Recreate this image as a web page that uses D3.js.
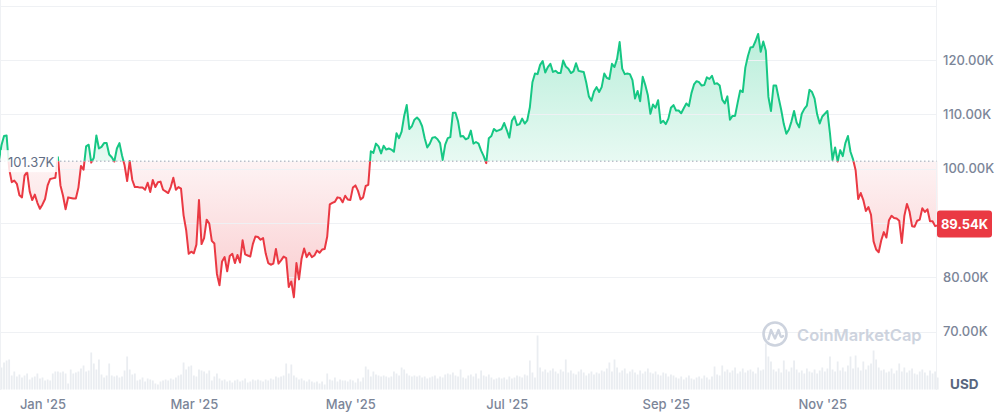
<!DOCTYPE html>
<html><head><meta charset="utf-8">
<script src="https://cdn.jsdelivr.net/npm/d3@7"></script>
<style>
html,body{margin:0;padding:0;background:#fff;}
svg{display:block;font-family:Inter,"Noto Sans",sans-serif;}
</style></head><body>
<svg id="chart" width="997" height="412"></svg>
<script>
// ---------------- DATA ----------------
// Daily closing prices (thousand USD), first value = close of 14 Dec 2024, last = close of 15 Dec 2025
const startDate = "2024-12-15"; // plot date of the first close
const pricesDec2024 = [101.37,104.3,106.0,106.1,100.0,97.5,97.8,97.2,95.1,94.7,98.7,99.4,95.8,94.2,95.2,93.7,92.6,93.4];
const pricesJan = [94.4,96.9,98.1,98.2,98.3,102.1,96.9,95.0,92.5,94.7,94.6,94.5,94.5,96.5,100.5,99.8,104.1,104.4,101.1,102.0,106.1,103.7,104.0,104.7,104.7,102.6,102.1,101.3,103.7,104.7,102.4];
const pricesFeb = [100.6,97.7,101.4,97.9,96.6,96.6,96.5,96.5,96.1,97.4,95.7,97.9,96.6,97.5,97.6,96.1,95.8,95.5,96.6,98.3,96.1,96.6,96.3,91.4,88.7,84.3,84.7,84.4];
const pricesMar = [86.0,94.2,86.1,87.2,90.6,89.9,86.7,86.2,80.6,78.5,82.9,83.7,81.1,83.9,84.3,82.6,84.1,82.7,86.8,84.2,84.0,83.8,86.1,87.5,87.4,86.9,87.2,84.4,82.6,82.3,82.5];
const pricesApr = [85.2,82.5,83.1,83.8,83.5,78.2,79.2,76.3,82.6,79.6,83.4,85.3,83.7,84.5,83.7,84.0,84.9,84.5,85.1,85.2,87.5,93.4,93.7,93.9,94.7,94.6,93.8,95.0,94.3,94.2];
const pricesMay = [96.5,96.9,95.9,94.3,94.7,96.8,97.0,103.2,102.9,104.6,104.1,102.8,104.2,103.5,103.7,103.5,103.1,106.5,105.6,106.8,109.7,111.7,107.3,107.8,109.0,109.4,108.9,107.8,105.6,103.9,104.6];
const pricesJun = [105.7,105.8,105.4,104.7,101.6,104.4,105.6,105.8,110.3,110.3,108.7,105.9,106.0,105.4,105.6,107.0,104.6,104.9,104.6,103.3,102.3,101.0,105.6,106.0,107.3,106.9,107.1,107.3,108.4,107.1];
const pricesJul = [105.7,108.8,109.6,108.0,108.2,109.2,108.3,108.9,111.3,115.9,117.5,117.4,119.1,119.8,117.7,118.7,119.3,117.8,118.0,117.6,117.6,119.9,118.8,118.4,117.6,117.9,119.4,118.0,117.9,117.8,115.8];
const pricesAug = [113.3,112.5,114.2,115.0,114.1,115.0,117.5,116.7,116.5,119.3,118.7,120.2,123.3,118.4,117.4,117.5,117.4,116.3,112.9,114.3,112.4,116.9,115.4,113.5,110.1,111.8,111.2,112.6,108.4,108.8,108.2];
const pricesSep = [109.2,111.2,111.7,110.7,110.7,110.2,111.1,112.0,111.5,113.9,115.5,116.1,115.9,115.3,115.4,116.8,116.5,117.1,115.6,115.7,115.3,112.7,112.0,113.3,109.0,109.7,109.7,112.1,114.4,114.1];
const pricesOct = [118.6,120.7,122.3,122.4,123.5,124.8,121.5,123.4,121.7,113.2,110.6,115.3,115.3,113.0,110.8,108.2,106.4,107.2,108.7,110.6,108.5,107.6,110.1,111.0,111.6,114.5,114.1,112.9,110.0,108.3,109.6];
const pricesNov = [110.1,110.6,106.5,101.6,103.9,101.3,103.4,102.3,104.7,106.0,103.1,101.7,99.7,94.4,95.5,94.2,92.2,92.9,91.5,86.6,85.1,84.6,86.8,88.3,87.3,90.5,91.3,90.9,90.8,90.4];
const pricesDec2025 = [86.3,91.3,93.5,92.1,89.4,89.3,90.4,90.6,92.7,92.0,92.5,90.3,90.3,89.4,89.54];

// Daily volume (relative units)
const volumes = [
 26,22,27,29,30, 14,18,13,15,12,14,16,10,12,13, 16,11,12,9,10,9, 16,18,18,17,18,16,6,
 20,16,17,18,21,24,18,19, 37,26,20,30,15,12,14,26, 14,13,14,12,13,19,33,20,15,16,
 9,10,12,8,11,10,9, 6,5,8,9,10,9,11,10, 12,14,15, 27,20,23,24, 14,13,20,19,18,16,19,
 9,13,16,11, 9,10,8,9,7,9,10,8,9,11,7, 8,10,9,10,9,8,10,9,11,10,13, 12,13,14,
 26,16,25, 14,12,10,11, 9,8,10,8,7,8,6,8,5, 16, 10,9,12,8,10,9, 9,8,10,9,7,11,8,12,
 23,20,13, 18,15,14,13,14,13,12, 13,18,16,14,22,20, 16,14,13,14,13,14,12,13,
 11,12,13,14,11,13,12, 15,16,15,17,14,13, 20, 12,11,14,15,13, 16,11,19,14, 13,15,12,10,11,12,
 11,12,10,13,11,12,14,13,12,15,14, 29,17,12, 54, 22,18,20,17,19,21,18,16,20, 18,30,
 17,19,16,15,18,20,17,14,16,18,15,17,16,19,18, 21,27,18,30,
 22,17,19,21,16,18,20,17,15,19,16,18,21,17,16,18,15,14,17,16,13,15,14,
 12,11,13,10,12,14,11,10,12,13,11,14,12,10,13, 23,15,14,24,
 18,20,17,19,22,16,18,21,17,19,20,18,16,22,19, 20,46,33,28,20, 18,21,17,29, 20,18,22,29,
 20,17,19,16,21,18,17,20,16,19,22, 18,21,33, 20,18,28, 19,22,18,24,33,21, 34,22,19, 28,20,
 24,26,39, 30,22,19,20,17,18,21,16,19, 26, 18,22,17,19,21,16,15,18,20,17,14,19,16,18,12
];

const baselinePrice = 101.37;
const lastPrice = 89.54;
const yGridValues = [70,80,90,100,110,120,130];
const yTickValues = [70,80,100,110,120]; // 90.00K is hidden behind the price badge
const xTickDates = ["2025-01-01","2025-03-01","2025-05-01","2025-07-01","2025-09-01","2025-11-01"];
const xTickLabels = ["Jan '25","Mar '25","May '25","Jul '25","Sep '25","Nov '25"];
const currencyLabel = "USD";
const brandLabel = "CoinMarketCap";

// ---------------- BUILD ----------------
const prices = [].concat(pricesDec2024,pricesJan,pricesFeb,pricesMar,pricesApr,pricesMay,pricesJun,
  pricesJul,pricesAug,pricesSep,pricesOct,pricesNov,pricesDec2025);
const parse = d3.utcParse("%Y-%m-%d");
const start = parse(startDate);
const data = prices.map((p,i)=>({date:d3.utcDay.offset(start,i), price:p, vol: volumes[i]||0}));

const GREEN = "#16c784", RED = "#ea3943";
const plotRight = 936.5;

const svg = d3.select("#chart");
const x = d3.scaleUtc().domain([parse("2024-12-15"), parse("2025-12-16")]).range([-1.1, 937.7]);
const y = d3.scaleLinear().domain([70,130]).range([331.5, 5.7]);
const vy = d3.scaleLinear().domain([0,60]).range([389.5, 329.5]);
const yb = y(baselinePrice);

const defs = svg.append("defs");
const gG = defs.append("linearGradient").attr("id","gGreen").attr("gradientUnits","userSpaceOnUse")
  .attr("x1",0).attr("x2",0).attr("y1",y(125)).attr("y2",yb);
gG.append("stop").attr("offset",0).attr("stop-color",GREEN).attr("stop-opacity",0.30);
gG.append("stop").attr("offset",1).attr("stop-color",GREEN).attr("stop-opacity",0.10);
const gR = defs.append("linearGradient").attr("id","gRed").attr("gradientUnits","userSpaceOnUse")
  .attr("x1",0).attr("x2",0).attr("y1",yb).attr("y2",y(76));
gR.append("stop").attr("offset",0).attr("stop-color",RED).attr("stop-opacity",0.06);
gR.append("stop").attr("offset",1).attr("stop-color",RED).attr("stop-opacity",0.26);
defs.append("clipPath").attr("id","cAbove").append("rect").attr("x",0).attr("y",0).attr("width",939).attr("height",yb);
defs.append("clipPath").attr("id","cBelow").append("rect").attr("x",0).attr("y",yb).attr("width",939).attr("height",330-yb+10);

// volume bars
svg.append("g").selectAll("rect").data(data).join("rect")
  .attr("x",d=>x(d.date)-0.9).attr("width",1.8)
  .attr("y",d=>vy(d.vol)).attr("height",d=>vy(0)-vy(d.vol))
  .attr("fill","#eaedf1");

// areas
const area = d3.area().x(d=>x(d.date)).y0(yb).y1(d=>y(d.price));
svg.append("path").datum(data).attr("d",area).attr("fill","url(#gGreen)").attr("clip-path","url(#cAbove)");
svg.append("path").datum(data).attr("d",area).attr("fill","url(#gRed)").attr("clip-path","url(#cBelow)");

// grid
svg.append("g").selectAll("line").data(yGridValues).join("line")
  .attr("x1",0).attr("x2",plotRight)
  .attr("y1",d=>Math.round(y(d))+0.5).attr("y2",d=>Math.round(y(d))+0.5)
  .attr("stroke","#eff1f4").attr("stroke-width",1);
svg.append("line").attr("x1",0.5).attr("x2",0.5).attr("y1",0).attr("y2",390).attr("stroke","#eff1f4");
svg.append("line").attr("x1",plotRight).attr("x2",plotRight).attr("y1",0).attr("y2",390).attr("stroke","#eff1f4");

// price lines
const line = d3.line().x(d=>x(d.date)).y(d=>y(d.price));
svg.append("path").datum(data).attr("d",line).attr("fill","none").attr("stroke",GREEN)
  .attr("stroke-width",2).attr("stroke-linejoin","round").attr("clip-path","url(#cAbove)");
svg.append("path").datum(data).attr("d",line).attr("fill","none").attr("stroke",RED)
  .attr("stroke-width",2).attr("stroke-linejoin","round").attr("clip-path","url(#cBelow)");

// baseline dotted
svg.append("line").attr("x1",0).attr("x2",plotRight).attr("y1",yb).attr("y2",yb)
  .attr("stroke","#9aa3b4").attr("stroke-width",1).attr("stroke-dasharray","1.5,2.5");

// baseline label
svg.append("rect").attr("x",1).attr("y",yb-11).attr("width",57).attr("height",22)
  .attr("fill","rgba(255,255,255,0.85)");
svg.append("text").attr("x",8).attr("y",yb+1).attr("dominant-baseline","central")
  .attr("font-size",13).attr("fill","#616e85").text(d3.format(".2f")(baselinePrice)+"K");

// right axis
const yAxis = d3.axisRight(y).tickValues(yTickValues).tickSize(0).tickPadding(6.5)
  .tickFormat(d=>d3.format(".2f")(d)+"K");
const gy = svg.append("g").attr("transform",`translate(${plotRight},0)`).call(yAxis);
gy.select(".domain").remove();
gy.selectAll("text").attr("font-family","Inter").attr("font-size",13).attr("font-weight",500).attr("fill","#7b8598");

// bottom axis
const xAxis = d3.axisBottom(x).tickValues(xTickDates.map(parse)).tickSize(0)
  .tickFormat((d,i)=>xTickLabels[i]);
const gx = svg.append("g").call(xAxis);
gx.select(".domain").remove();
gx.selectAll("text").attr("dy",null).attr("y",409).attr("font-family","Inter")
  .attr("font-size",13).attr("font-weight",500).attr("fill","#7b8598");

// current price badge
const yl = y(lastPrice);
svg.append("rect").attr("x",937).attr("y",yl-15).attr("width",55).attr("height",27).attr("rx",3).attr("fill",RED);
svg.append("text").attr("x",964.5).attr("y",yl-1.5).attr("text-anchor","middle").attr("dominant-baseline","central")
  .attr("font-size",13).attr("font-weight",700).attr("fill","#fff").text(d3.format(".2f")(lastPrice)+"K");

// currency
svg.append("text").attr("x",950).attr("y",389).attr("font-size",13.5).attr("font-weight",700)
  .attr("fill","#58667e").text(currencyLabel);

// watermark
const wm = svg.append("g");
wm.append("circle").attr("cx",775).attr("cy",334).attr("r",11.5).attr("fill","none")
  .attr("stroke","#cdd3de").attr("stroke-width",2.6);
wm.append("path").attr("d","M768.5,339 L771,330 L775,338.5 L778.5,330 L780.5,336 Q781.5,338 783,336")
  .attr("fill","none").attr("stroke","#cdd3de").attr("stroke-width",2.4).attr("stroke-linejoin","round").attr("stroke-linecap","round");
wm.append("text").attr("x",797).attr("y",335).attr("dominant-baseline","central")
  .attr("font-size",16.5).attr("font-weight",600).attr("fill","#cdd3de").text(brandLabel);
</script>
</body></html>
